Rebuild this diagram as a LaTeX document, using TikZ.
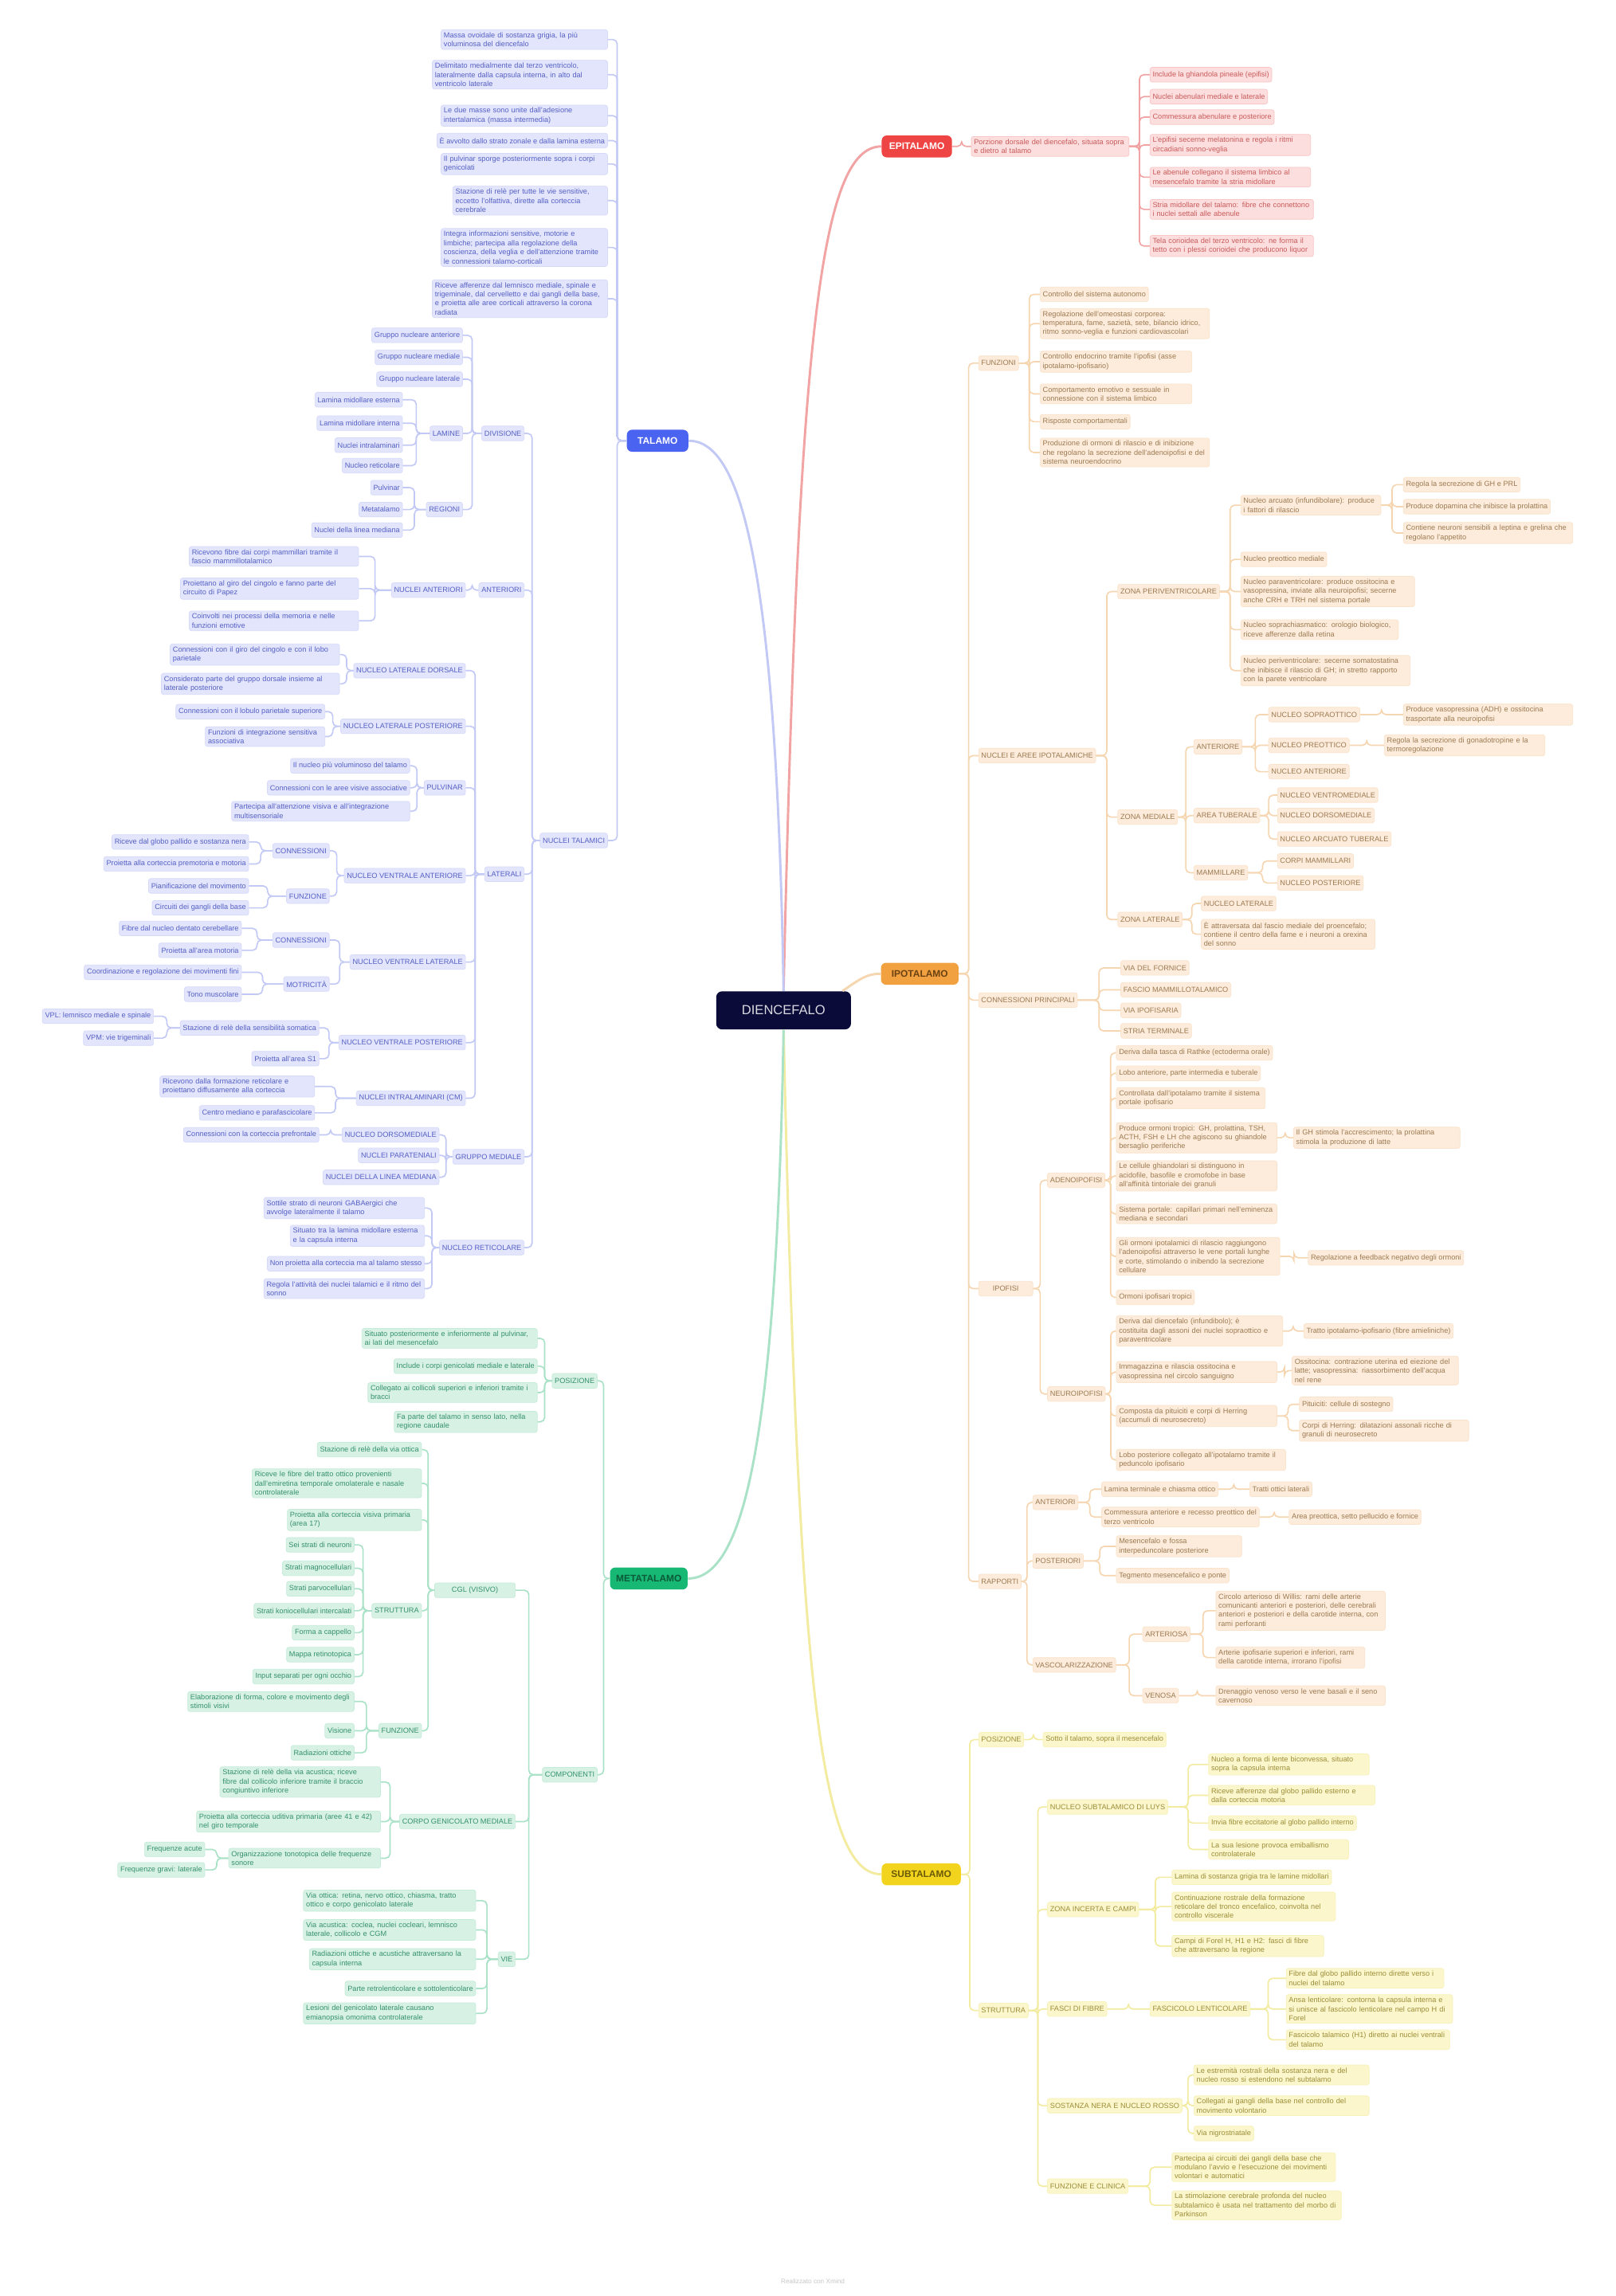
\documentclass[tikz,border=0pt]{standalone}
\usepackage{fontspec}
\setmainfont{Liberation Sans}
\usetikzlibrary{calc}
\hyphenpenalty=10000 \exhyphenpenalty=10000
\definecolor{navy}{HTML}{0B0B3A}
\definecolor{bM}{HTML}{4A63F0}\definecolor{bL}{HTML}{E2E5FC}\definecolor{bLn}{HTML}{C3C9F5}\definecolor{bT}{HTML}{5560C4}
\definecolor{rM}{HTML}{EF4444}\definecolor{rL}{HTML}{FDDEDE}\definecolor{rLn}{HTML}{F2A3A3}\definecolor{rT}{HTML}{C85A5A}
\definecolor{oM}{HTML}{F2A141}\definecolor{oL}{HTML}{FDECDB}\definecolor{oLn}{HTML}{F6D6B0}\definecolor{oT}{HTML}{9C7A52}\definecolor{oD}{HTML}{6B4212}
\definecolor{yM}{HTML}{F2D41E}\definecolor{yL}{HTML}{FBF6CC}\definecolor{yLn}{HTML}{F2EBA0}\definecolor{yT}{HTML}{9C8E38}\definecolor{yD}{HTML}{6B5A08}
\definecolor{gM}{HTML}{17B873}\definecolor{gL}{HTML}{D7F2E5}\definecolor{gLn}{HTML}{A9E2C7}\definecolor{gT}{HTML}{35906C}\definecolor{gD}{HTML}{0B5A3A}
\tikzset{
  base/.style={font=\fontsize{5}{6.2}\selectfont, inner sep=1.8pt, rounded corners=1.5pt, minimum height=10pt, align=left},
  leafB/.style={base, fill=bL, draw=bL!60!bLn, text=bT},
  leafR/.style={base, fill=rL, draw=rL!60!rLn, text=rT},
  leafO/.style={base, fill=oL, draw=oL!60!oLn, text=oT},
  leafY/.style={base, fill=yL, draw=yL!60!yLn, text=yT},
  leafG/.style={base, fill=gL, draw=gL!60!gLn, text=gT},
  lnB/.style={draw=bLn, line width=0.9pt, rounded corners=3pt},
  lnR/.style={draw=rLn, line width=0.9pt, rounded corners=3pt},
  lnO/.style={draw=oLn, line width=0.9pt, rounded corners=3pt},
  lnY/.style={draw=yLn, line width=0.9pt, rounded corners=3pt},
  lnG/.style={draw=gLn, line width=0.9pt, rounded corners=3pt},
  mainnode/.style={rounded corners=3.5pt, minimum height=15pt, inner sep=2pt, font=\fontsize{6.5}{7}\selectfont\bfseries},
  branch/.style={line width=1.6pt},
}
\newcommand\RN[4][]{\node[lf,anchor=west,#1] (#2) at #3 {#4};}
\newcommand\LN[4][]{\node[lf,anchor=east,#1] (#2) at #3 {#4};}
\newcommand\CR[2]{\draw[ln] (#1.east) -- ($(#1.east)!.5!(#2.west |- #1.east)$) |- (#2.west);}
\newcommand\CL[2]{\draw[ln] (#1.west) -- ($(#1.west)!.5!(#2.east |- #1.west)$) |- (#2.east);}
\begin{document}
\begin{tikzpicture}[x=1pt,y=-1pt]
\fill[white] (0,0) rectangle (1103,1568);
\useasboundingbox (0,0) rectangle (1103,1568);

\node[rounded corners=4pt, fill=navy, text=white!85!navy, minimum width=92pt, minimum height=26pt, font=\fontsize{9}{10}\selectfont] (C) at (535,690) {DIENCEFALO};

% ---------------- RED
\node[mainnode, fill=rM, text=white, minimum width=48pt] (E) at (626,100) {EPITALAMO};
\draw[branch, draw=rLn] (C.north) .. controls (545,230) and (560,100) .. (E.west);
\begin{scope}[lf/.style={leafR}, ln/.style={lnR}]
\RN[text width=104pt]{r1}{(663,100)}{Porzione dorsale del diencefalo, situata sopra e dietro al talamo}
\RN{r1a}{(785,51)}{Include la ghiandola pineale (epifisi)}
\RN{r1b}{(785,66)}{Nuclei abenulari mediale e laterale}
\RN{r1c}{(785,80)}{Commessura abenulare e posteriore}
\RN[text width=106pt]{r1d}{(785,99)}{L'epifisi secerne melatonina e regola i ritmi circadiani sonno-veglia}
\RN[text width=106pt]{r1e}{(785,121)}{Le abenule collegano il sistema limbico al mesencefalo tramite la stria midollare}
\RN[text width=108pt]{r1f}{(785,143)}{Stria midollare del talamo: fibre che connettono i nuclei settali alle abenule}
\RN[text width=108pt]{r1g}{(785,168)}{Tela corioidea del terzo ventricolo: ne forma il tetto con i plessi corioidei che producono liquor}
\CR{E}{r1}
\foreach \c in {r1a,r1b,r1c,r1d,r1e,r1f,r1g}{\CR{r1}{\c}}
\end{scope}

% ---------------- ORANGE
\node[mainnode, fill=oM, text=oD, minimum width=53pt] (O) at (628,665) {IPOTALAMO};
\draw[branch, draw=oLn] ($(C.north east)+(-6,0)$) .. controls (588,668) and (592,665) .. (O.west);
\begin{scope}[lf/.style={leafO}, ln/.style={lnO}]
\RN{o1}{(668,248)}{FUNZIONI}
\RN{o1a}{(710,201)}{Controllo del sistema autonomo}
\RN[text width=112pt]{o1b}{(710,221)}{Regolazione dell'omeostasi corporea: temperatura, fame, sazietà, sete, bilancio idrico, ritmo sonno-veglia e funzioni cardiovascolari}
\RN[text width=100pt]{o1c}{(710,247)}{Controllo endocrino tramite l'ipofisi (asse ipotalamo-ipofisario)}
\RN[text width=100pt]{o1d}{(710,269)}{Comportamento emotivo e sessuale in connessione con il sistema limbico}
\RN{o1e}{(710,288)}{Risposte comportamentali}
\RN[text width=112pt]{o1f}{(710,309)}{Produzione di ormoni di rilascio e di inibizione che regolano la secrezione dell'adenoipofisi e del sistema neuroendocrino}
\RN{o2}{(668,516)}{NUCLEI E AREE IPOTALAMICHE}
\RN{o2a}{(763,404)}{ZONA PERIVENTRICOLARE}
\RN[text width=92pt]{o2a1}{(847,345)}{Nucleo arcuato (infundibolare): produce i fattori di rilascio}
\RN{o2a1a}{(958,331)}{Regola la secrezione di GH e PRL}
\RN{o2a1b}{(958,346)}{Produce dopamina che inibisce la prolattina}
\RN[text width=112pt]{o2a1c}{(958,364)}{Contiene neuroni sensibili a leptina e grelina che regolano l'appetito}
\RN{o2a2}{(847,382)}{Nucleo preottico mediale}
\RN[text width=115pt]{o2a3}{(847,404)}{Nucleo paraventricolare: produce ossitocina e vasopressina, inviate alla neuroipofisi; secerne anche CRH e TRH nel sistema portale}
\RN[text width=104pt]{o2a4}{(847,430)}{Nucleo soprachiasmatico: orologio biologico, riceve afferenze dalla retina}
\RN[text width=112pt]{o2a5}{(847,458)}{Nucleo periventricolare: secerne somatostatina che inibisce il rilascio di GH; in stretto rapporto con la parete ventricolare}
\RN{o2b}{(763,558)}{ZONA MEDIALE}
\RN{o2b1}{(815,510)}{ANTERIORE}
\RN{o2b1a}{(866,488)}{NUCLEO SOPRAOTTICO}
\RN[text width=112pt]{o2b1a1}{(958,488)}{Produce vasopressina (ADH) e ossitocina trasportate alla neuroipofisi}
\RN{o2b1b}{(866,509)}{NUCLEO PREOTTICO}
\RN[text width=106pt]{o2b1b1}{(945,509)}{Regola la secrezione di gonadotropine e la termoregolazione}
\RN{o2b1c}{(866,527)}{NUCLEO ANTERIORE}
\RN{o2b2}{(815,557)}{AREA TUBERALE}
\RN{o2b2a}{(872,543)}{NUCLEO VENTROMEDIALE}
\RN{o2b2b}{(872,557)}{NUCLEO DORSOMEDIALE}
\RN{o2b2c}{(872,573)}{NUCLEO ARCUATO TUBERALE}
\RN{o2b3}{(815,596)}{MAMMILLARE}
\RN{o2b3a}{(872,588)}{CORPI MAMMILLARI}
\RN{o2b3b}{(872,603)}{NUCLEO POSTERIORE}
\RN{o2c}{(763,628)}{ZONA LATERALE}
\RN{o2c1}{(820,617)}{NUCLEO LATERALE}
\RN[text width=115pt]{o2c2}{(820,638)}{È attraversata dal fascio mediale del proencefalo; contiene il centro della fame e i neuroni a orexina del sonno}
\RN{o3}{(668,683)}{CONNESSIONI PRINCIPALI}
\RN{o3a}{(765,661)}{VIA DEL FORNICE}
\RN{o3b}{(765,676)}{FASCIO MAMMILLOTALAMICO}
\RN{o3c}{(765,690)}{VIA IPOFISARIA}
\RN{o3d}{(765,704)}{STRIA TERMINALE}
\RN[minimum width=37pt]{o4}{(668,880)}{IPOFISI}
\RN{o4a}{(715,806)}{ADENOIPOFISI}
\RN{o4a1}{(762,719)}{Deriva dalla tasca di Rathke (ectoderma orale)}
\RN{o4a2}{(762,733)}{Lobo anteriore, parte intermedia e tuberale}
\RN[text width=98pt]{o4a3}{(762,750)}{Controllata dall'ipotalamo tramite il sistema portale ipofisario}
\RN[text width=106pt]{o4a4}{(762,777)}{Produce ormoni tropici: GH, prolattina, TSH, ACTH, FSH e LH che agiscono su ghiandole bersaglio periferiche}
\RN[text width=110pt]{o4a4a}{(883,777)}{Il GH stimola l'accrescimento; la prolattina stimola la produzione di latte}
\RN[text width=106pt]{o4a5}{(762,803)}{Le cellule ghiandolari si distinguono in acidofile, basofile e cromofobe in base all'affinità tintoriale dei granuli}
\RN[text width=106pt]{o4a6}{(762,829)}{Sistema portale: capillari primari nell'eminenza mediana e secondari}
\RN[text width=108pt]{o4a7}{(762,858)}{Gli ormoni ipotalamici di rilascio raggiungono l'adenoipofisi attraverso le vene portali lunghe e corte, stimolando o inibendo la secrezione cellulare}
\RN{o4a7a}{(893,859)}{Regolazione a feedback negativo degli ormoni}
\RN{o4a8}{(762,886)}{Ormoni ipofisari tropici}
\RN{o4b}{(715,952)}{NEUROIPOFISI}
\RN[text width=110pt]{o4b1}{(762,909)}{Deriva dal diencefalo (infundibolo); è costituita dagli assoni dei nuclei sopraottico e paraventricolare}
\RN{o4b1a}{(890,909)}{Tratto ipotalamo-ipofisario (fibre amieliniche)}
\RN[text width=106pt]{o4b2}{(762,937)}{Immagazzina e rilascia ossitocina e vasopressina nel circolo sanguigno}
\RN[text width=110pt]{o4b2a}{(882,936)}{Ossitocina: contrazione uterina ed eiezione del latte; vasopressina: riassorbimento dell'acqua nel rene}
\RN[text width=106pt]{o4b3}{(762,967)}{Composta da pituiciti e corpi di Herring (accumuli di neurosecreto)}
\RN{o4b3a}{(887,959)}{Pituiciti: cellule di sostegno}
\RN[text width=112pt]{o4b3b}{(887,977)}{Corpi di Herring: dilatazioni assonali ricche di granuli di neurosecreto}
\RN[text width=112pt]{o4b4}{(762,997)}{Lobo posteriore collegato all'ipotalamo tramite il peduncolo ipofisario}
\RN{o5}{(668,1080)}{RAPPORTI}
\RN{o5a}{(705,1026)}{ANTERIORI}
\RN{o5a1}{(752,1017)}{Lamina terminale e chiasma ottico}
\RN{o5a1a}{(853,1017)}{Tratti ottici laterali}
\RN[text width=104pt]{o5a2}{(752,1036)}{Commessura anteriore e recesso preottico del terzo ventricolo}
\RN{o5a2a}{(880,1036)}{Area preottica, setto pellucido e fornice}
\RN{o5b}{(705,1066)}{POSTERIORI}
\RN[text width=82pt]{o5b1}{(762,1056)}{Mesencefalo e fossa interpeduncolare posteriore}
\RN{o5b2}{(762,1076)}{Tegmento mesencefalico e ponte}
\RN{o5c}{(705,1137)}{VASCOLARIZZAZIONE}
\RN{o5c1}{(780,1116)}{ARTERIOSA}
\RN[text width=112pt]{o5c1a}{(830,1100)}{Circolo arterioso di Willis: rami delle arterie comunicanti anteriori e posteriori, delle cerebrali anteriori e posteriori e della carotide interna, con rami perforanti}
\RN[text width=98pt]{o5c1b}{(830,1132)}{Arterie ipofisarie superiori e inferiori, rami della carotide interna, irrorano l'ipofisi}
\RN{o5c2}{(780,1158)}{VENOSA}
\RN[text width=112pt]{o5c2a}{(830,1158)}{Drenaggio venoso verso le vene basali e il seno cavernoso}
\foreach \c in {o1,o2,o3,o4,o5}{\CR{O}{\c}}
\foreach \c in {o1a,o1b,o1c,o1d,o1e,o1f}{\CR{o1}{\c}}
\foreach \c in {o2a,o2b,o2c}{\CR{o2}{\c}}
\foreach \c in {o2a1,o2a2,o2a3,o2a4,o2a5}{\CR{o2a}{\c}}
\foreach \c in {o2a1a,o2a1b,o2a1c}{\CR{o2a1}{\c}}
\foreach \c in {o2b1,o2b2,o2b3}{\CR{o2b}{\c}}
\foreach \c in {o2b1a,o2b1b,o2b1c}{\CR{o2b1}{\c}}
\CR{o2b1a}{o2b1a1}\CR{o2b1b}{o2b1b1}
\foreach \c in {o2b2a,o2b2b,o2b2c}{\CR{o2b2}{\c}}
\foreach \c in {o2b3a,o2b3b}{\CR{o2b3}{\c}}
\foreach \c in {o2c1,o2c2}{\CR{o2c}{\c}}
\foreach \c in {o3a,o3b,o3c,o3d}{\CR{o3}{\c}}
\foreach \c in {o4a,o4b}{\CR{o4}{\c}}
\foreach \c in {o4a1,o4a2,o4a3,o4a4,o4a5,o4a6,o4a7,o4a8}{\CR{o4a}{\c}}
\CR{o4a4}{o4a4a}\CR{o4a7}{o4a7a}
\foreach \c in {o4b1,o4b2,o4b3,o4b4}{\CR{o4b}{\c}}
\CR{o4b1}{o4b1a}\CR{o4b2}{o4b2a}\CR{o4b3}{o4b3a}\CR{o4b3}{o4b3b}
\foreach \c in {o5a,o5b,o5c}{\CR{o5}{\c}}
\CR{o5a}{o5a1}\CR{o5a}{o5a2}\CR{o5a1}{o5a1a}\CR{o5a2}{o5a2a}
\CR{o5b}{o5b1}\CR{o5b}{o5b2}
\CR{o5c}{o5c1}\CR{o5c}{o5c2}\CR{o5c1}{o5c1a}\CR{o5c1}{o5c1b}\CR{o5c2}{o5c2a}
\end{scope}

% ---------------- YELLOW
\node[mainnode, fill=yM, text=yD, minimum width=54pt] (S) at (629,1280) {SUBTALAMO};
\draw[branch, draw=yLn] (C.south) .. controls (545,1150) and (560,1280) .. (S.west);
\begin{scope}[lf/.style={leafY}, ln/.style={lnY}]
\RN{y1}{(668,1188)}{POSIZIONE}
\RN{y1a}{(712,1188)}{Sotto il talamo, sopra il mesencefalo}
\RN{y2}{(668,1373)}{STRUTTURA}
\RN{y2a}{(715,1234)}{NUCLEO SUBTALAMICO DI LUYS}
\RN[text width=106pt]{y2a1}{(825,1205)}{Nucleo a forma di lente biconvessa, situato sopra la capsula interna}
\RN[text width=110pt]{y2a2}{(825,1226)}{Riceve afferenze dal globo pallido esterno e dalla corteccia motoria}
\RN{y2a3}{(825,1245)}{Invia fibre eccitatorie al globo pallido interno}
\RN[text width=92pt]{y2a4}{(825,1263)}{La sua lesione provoca emiballismo controlaterale}
\RN{y2b}{(715,1304)}{ZONA INCERTA E CAMPI}
\RN{y2b1}{(800,1282)}{Lamina di sostanza grigia tra le lamine midollari}
\RN[text width=108pt]{y2b2}{(800,1302)}{Continuazione rostrale della formazione reticolare del tronco encefalico, coinvolta nel controllo viscerale}
\RN[text width=100pt]{y2b3}{(800,1329)}{Campi di Forel H, H1 e H2: fasci di fibre che attraversano la regione}
\RN{y2c}{(715,1372)}{FASCI DI FIBRE}
\RN{y2c1}{(785,1372)}{FASCICOLO LENTICOLARE}
\RN[text width=104pt]{y2c1a}{(878,1351)}{Fibre dal globo pallido interno dirette verso i nuclei del talamo}
\RN[text width=110pt]{y2c1b}{(878,1372)}{Ansa lenticolare: contorna la capsula interna e si unisce al fascicolo lenticolare nel campo H di Forel}
\RN[text width=108pt]{y2c1c}{(878,1393)}{Fascicolo talamico (H1) diretto ai nuclei ventrali del talamo}
\RN{y2d}{(715,1438)}{SOSTANZA NERA E NUCLEO ROSSO}
\RN[text width=116pt]{y2d1}{(815,1417)}{Le estremità rostrali della sostanza nera e del nucleo rosso si estendono nel subtalamo}
\RN[text width=116pt]{y2d2}{(815,1438)}{Collegati ai gangli della base nel controllo del movimento volontario}
\RN{y2d3}{(815,1457)}{Via nigrostriatale}
\RN{y2e}{(715,1493)}{FUNZIONE E CLINICA}
\RN[text width=108pt]{y2e1}{(800,1480)}{Partecipa ai circuiti dei gangli della base che modulano l'avvio e l'esecuzione dei movimenti volontari e automatici}
\RN[text width=112pt]{y2e2}{(800,1506)}{La stimolazione cerebrale profonda del nucleo subtalamico è usata nel trattamento del morbo di Parkinson}
\CR{S}{y1}\CR{S}{y2}\CR{y1}{y1a}
\foreach \c in {y2a,y2b,y2c,y2d,y2e}{\CR{y2}{\c}}
\foreach \c in {y2a1,y2a2,y2a3,y2a4}{\CR{y2a}{\c}}
\foreach \c in {y2b1,y2b2,y2b3}{\CR{y2b}{\c}}
\CR{y2c}{y2c1}
\foreach \c in {y2c1a,y2c1b,y2c1c}{\CR{y2c1}{\c}}
\foreach \c in {y2d1,y2d2,y2d3}{\CR{y2d}{\c}}
\foreach \c in {y2e1,y2e2}{\CR{y2e}{\c}}
\end{scope}

% ---------------- BLUE
\node[mainnode, fill=bM, text=white, minimum width=42pt] (T) at (449,301) {TALAMO};
\draw[branch, draw=bLn] (C.north) .. controls (530,380) and (505,301) .. (T.east);
\begin{scope}[lf/.style={leafB}, ln/.style={lnB}]
\LN[text width=110pt]{b1}{(415,27)}{Massa ovoidale di sostanza grigia, la più voluminosa del diencefalo}
\LN[text width=116pt]{b2}{(415,51)}{Delimitato medialmente dal terzo ventricolo, lateralmente dalla capsula interna, in alto dal ventricolo laterale}
\LN[text width=110pt]{b3}{(415,79)}{Le due masse sono unite dall'adesione intertalamica (massa intermedia)}
\LN{b4}{(415,96)}{È avvolto dallo strato zonale e dalla lamina esterna}
\LN[text width=110pt]{b5}{(415,112)}{Il pulvinar sporge posteriormente sopra i corpi genicolati}
\LN[text width=102pt]{b6}{(415,137)}{Stazione di relè per tutte le vie sensitive, eccetto l'olfattiva, dirette alla corteccia cerebrale}
\LN[text width=110pt]{b7}{(415,169)}{Integra informazioni sensitive, motorie e limbiche; partecipa alla regolazione della coscienza, della veglia e dell'attenzione tramite le connessioni talamo-corticali}
\LN[text width=116pt]{b8}{(415,204)}{Riceve afferenze dal lemnisco mediale, spinale e trigeminale, dal cervelletto e dai gangli della base, e proietta alle aree corticali attraverso la corona radiata}
\LN{b9}{(415,574)}{NUCLEI TALAMICI}
\LN{b9a}{(358,296)}{DIVISIONE}
\LN{b9a1}{(316,229)}{Gruppo nucleare anteriore}
\LN{b9a2}{(316,244)}{Gruppo nucleare mediale}
\LN{b9a3}{(316,259)}{Gruppo nucleare laterale}
\LN{b9a4}{(316,296)}{LAMINE}
\LN{b9a4a}{(275,273)}{Lamina midollare esterna}
\LN{b9a4b}{(275,289)}{Lamina midollare interna}
\LN{b9a4c}{(275,304)}{Nuclei intralaminari}
\LN{b9a4d}{(275,318)}{Nucleo reticolare}
\LN{b9a5}{(316,348)}{REGIONI}
\LN{b9a5a}{(275,333)}{Pulvinar}
\LN{b9a5b}{(275,348)}{Metatalamo}
\LN{b9a5c}{(275,362)}{Nuclei della linea mediana}
\LN{b9b}{(358,403)}{ANTERIORI}
\LN{b9b1}{(318,403)}{NUCLEI ANTERIORI}
\LN[text width=112pt]{b9b1a}{(245,380)}{Ricevono fibre dai corpi mammillari tramite il fascio mammillotalamico}
\LN[text width=118pt]{b9b1b}{(245,402)}{Proiettano al giro del cingolo e fanno parte del circuito di Papez}
\LN[text width=112pt]{b9b1c}{(245,424)}{Coinvolti nei processi della memoria e nelle funzioni emotive}
\LN{b9c}{(358,597)}{LATERALI}
\LN{b9c1}{(318,458)}{NUCLEO LATERALE DORSALE}
\LN[text width=112pt]{b9c1a}{(232,447)}{Connessioni con il giro del cingolo e con il lobo parietale}
\LN[text width=118pt]{b9c1b}{(232,467)}{Considerato parte del gruppo dorsale insieme al laterale posteriore}
\LN{b9c2}{(318,496)}{NUCLEO LATERALE POSTERIORE}
\LN{b9c2a}{(222,486)}{Connessioni con il lobulo parietale superiore}
\LN[text width=78pt]{b9c2b}{(222,503)}{Funzioni di integrazione sensitiva associativa}
\LN{b9c3}{(318,538)}{PULVINAR}
\LN{b9c3a}{(280,523)}{Il nucleo più voluminoso del talamo}
\LN{b9c3b}{(280,538)}{Connessioni con le aree visive associative}
\LN[text width=118pt]{b9c3c}{(280,554)}{Partecipa all'attenzione visiva e all'integrazione multisensoriale}
\LN{b9c4}{(318,598)}{NUCLEO VENTRALE ANTERIORE}
\LN{b9c4a}{(225,581)}{CONNESSIONI}
\LN{b9c4a1}{(170,575)}{Riceve dal globo pallido e sostanza nera}
\LN{b9c4a2}{(170,590)}{Proietta alla corteccia premotoria e motoria}
\LN{b9c4b}{(225,612)}{FUNZIONE}
\LN{b9c4b1}{(170,605)}{Pianificazione del movimento}
\LN{b9c4b2}{(170,620)}{Circuiti dei gangli della base}
\LN{b9c5}{(318,657)}{NUCLEO VENTRALE LATERALE}
\LN{b9c5a}{(225,642)}{CONNESSIONI}
\LN{b9c5a1}{(165,634)}{Fibre dal nucleo dentato cerebellare}
\LN{b9c5a2}{(165,649)}{Proietta all'area motoria}
\LN{b9c5b}{(225,672)}{MOTRICITÀ}
\LN{b9c5b1}{(165,664)}{Coordinazione e regolazione dei movimenti fini}
\LN{b9c5b2}{(165,679)}{Tono muscolare}
\LN{b9c6}{(318,712)}{NUCLEO VENTRALE POSTERIORE}
\LN{b9c6a}{(218,702)}{Stazione di relè della sensibilità somatica}
\LN{b9c6a1}{(105,694)}{VPL: lemnisco mediale e spinale}
\LN{b9c6a2}{(105,709)}{VPM: vie trigeminali}
\LN{b9c6b}{(218,723)}{Proietta all'area S1}
\LN{b9c7}{(318,750)}{NUCLEI INTRALAMINARI (CM)}
\LN[text width=102pt]{b9c7a}{(215,742)}{Ricevono dalla formazione reticolare e proiettano diffusamente alla corteccia}
\LN{b9c7b}{(215,760)}{Centro mediano e parafascicolare}
\LN{b9d}{(358,790)}{GRUPPO MEDIALE}
\LN{b9d1}{(300,775)}{NUCLEO DORSOMEDIALE}
\LN{b9d1a}{(218,775)}{Connessioni con la corteccia prefrontale}
\LN{b9d2}{(300,789)}{NUCLEI PARATENIALI}
\LN{b9d3}{(300,804)}{NUCLEI DELLA LINEA MEDIANA}
\LN{b9e}{(358,852)}{NUCLEO RETICOLARE}
\LN[text width=106pt]{b9e1}{(290,825)}{Sottile strato di neuroni GABAergici che avvolge lateralmente il talamo}
\LN[text width=88pt]{b9e2}{(290,844)}{Situato tra la lamina midollare esterna e la capsula interna}
\LN{b9e3}{(290,863)}{Non proietta alla corteccia ma al talamo stesso}
\LN[text width=106pt]{b9e4}{(290,880)}{Regola l'attività dei nuclei talamici e il ritmo del sonno}
\foreach \c in {b1,b2,b3,b4,b5,b6,b7,b8,b9}{\CL{T}{\c}}
\foreach \c in {b9a,b9b,b9c,b9d,b9e}{\CL{b9}{\c}}
\foreach \c in {b9a1,b9a2,b9a3,b9a4,b9a5}{\CL{b9a}{\c}}
\foreach \c in {b9a4a,b9a4b,b9a4c,b9a4d}{\CL{b9a4}{\c}}
\foreach \c in {b9a5a,b9a5b,b9a5c}{\CL{b9a5}{\c}}
\CL{b9b}{b9b1}
\foreach \c in {b9b1a,b9b1b,b9b1c}{\CL{b9b1}{\c}}
\foreach \c in {b9c1,b9c2,b9c3,b9c4,b9c5,b9c6,b9c7}{\CL{b9c}{\c}}
\CL{b9c1}{b9c1a}\CL{b9c1}{b9c1b}\CL{b9c2}{b9c2a}\CL{b9c2}{b9c2b}
\foreach \c in {b9c3a,b9c3b,b9c3c}{\CL{b9c3}{\c}}
\CL{b9c4}{b9c4a}\CL{b9c4}{b9c4b}\CL{b9c4a}{b9c4a1}\CL{b9c4a}{b9c4a2}\CL{b9c4b}{b9c4b1}\CL{b9c4b}{b9c4b2}
\CL{b9c5}{b9c5a}\CL{b9c5}{b9c5b}\CL{b9c5a}{b9c5a1}\CL{b9c5a}{b9c5a2}\CL{b9c5b}{b9c5b1}\CL{b9c5b}{b9c5b2}
\CL{b9c6}{b9c6a}\CL{b9c6}{b9c6b}\CL{b9c6a}{b9c6a1}\CL{b9c6a}{b9c6a2}
\CL{b9c7}{b9c7a}\CL{b9c7}{b9c7b}
\foreach \c in {b9d1,b9d2,b9d3}{\CL{b9d}{\c}}
\CL{b9d1}{b9d1a}
\foreach \c in {b9e1,b9e2,b9e3,b9e4}{\CL{b9e}{\c}}
\end{scope}

% ---------------- GREEN
\node[mainnode, fill=gM, text=gD, minimum width=53pt] (M) at (443,1078) {METATALAMO};
\draw[branch, draw=gLn] (C.south) .. controls (530,1000) and (505,1078) .. (M.east);
\begin{scope}[lf/.style={leafG}, ln/.style={lnG}]
\LN{g1}{(408,943)}{POSIZIONE}
\LN[text width=116pt]{g1a}{(367,914)}{Situato posteriormente e inferiormente al pulvinar, ai lati del mesencefalo}
\LN{g1b}{(367,933)}{Include i corpi genicolati mediale e laterale}
\LN[text width=112pt]{g1c}{(367,951)}{Collegato ai collicoli superiori e inferiori tramite i bracci}
\LN[text width=94pt]{g1d}{(367,971)}{Fa parte del talamo in senso lato, nella regione caudale}
\LN{g2}{(408,1212)}{COMPONENTI}
\LN[minimum width=55pt]{g2a}{(352,1086)}{CGL (VISIVO)}
\LN{g2a1}{(288,990)}{Stazione di relè della via ottica}
\LN[text width=112pt]{g2a2}{(288,1013)}{Riceve le fibre del tratto ottico provenienti dall'emiretina temporale omolaterale e nasale controlaterale}
\LN[text width=88pt]{g2a3}{(288,1038)}{Proietta alla corteccia visiva primaria (area 17)}
\LN{g2a4}{(288,1100)}{STRUTTURA}
\LN{g2a4a}{(242,1055)}{Sei strati di neuroni}
\LN{g2a4b}{(242,1071)}{Strati magnocellulari}
\LN{g2a4c}{(242,1085)}{Strati parvocellulari}
\LN{g2a4d}{(242,1100)}{Strati koniocellulari intercalati}
\LN{g2a4e}{(242,1115)}{Forma a cappello}
\LN{g2a4f}{(242,1130)}{Mappa retinotopica}
\LN{g2a4g}{(242,1145)}{Input separati per ogni occhio}
\LN{g2a5}{(288,1182)}{FUNZIONE}
\LN[text width=110pt]{g2a5a}{(242,1162)}{Elaborazione di forma, colore e movimento degli stimoli visivi}
\LN{g2a5b}{(242,1182)}{Visione}
\LN{g2a5c}{(242,1197)}{Radiazioni ottiche}
\LN{g2b}{(352,1244)}{CORPO GENICOLATO MEDIALE}
\LN[text width=106pt]{g2b1}{(260,1217)}{Stazione di relè della via acustica; riceve fibre dal collicolo inferiore tramite il braccio congiuntivo inferiore}
\LN[text width=122pt]{g2b2}{(260,1244)}{Proietta alla corteccia uditiva primaria (aree 41 e 42) nel giro temporale}
\LN[text width=100pt]{g2b3}{(260,1269)}{Organizzazione tonotopica delle frequenze sonore}
\LN{g2b3a}{(140,1263)}{Frequenze acute}
\LN{g2b3b}{(140,1277)}{Frequenze gravi: laterale}
\LN{g2c}{(352,1338)}{VIE}
\LN[text width=114pt]{g2c1}{(325,1298)}{Via ottica: retina, nervo ottico, chiasma, tratto ottico e corpo genicolato laterale}
\LN[text width=114pt]{g2c2}{(325,1318)}{Via acustica: coclea, nuclei cocleari, lemnisco laterale, collicolo e CGM}
\LN[text width=110pt]{g2c3}{(325,1338)}{Radiazioni ottiche e acustiche attraversano la capsula interna}
\LN{g2c4}{(325,1358)}{Parte retrolenticolare e sottolenticolare}
\LN[text width=114pt]{g2c5}{(325,1375)}{Lesioni del genicolato laterale causano emianopsia omonima controlaterale}
\CL{M}{g1}\CL{M}{g2}
\foreach \c in {g1a,g1b,g1c,g1d}{\CL{g1}{\c}}
\foreach \c in {g2a,g2b,g2c}{\CL{g2}{\c}}
\foreach \c in {g2a1,g2a2,g2a3,g2a4,g2a5}{\CL{g2a}{\c}}
\foreach \c in {g2a4a,g2a4b,g2a4c,g2a4d,g2a4e,g2a4f,g2a4g}{\CL{g2a4}{\c}}
\foreach \c in {g2a5a,g2a5b,g2a5c}{\CL{g2a5}{\c}}
\foreach \c in {g2b1,g2b2,g2b3}{\CL{g2b}{\c}}
\CL{g2b3}{g2b3a}\CL{g2b3}{g2b3b}
\foreach \c in {g2c1,g2c2,g2c3,g2c4,g2c5}{\CL{g2c}{\c}}
\end{scope}

\node[text=black!22, font=\fontsize{4.5}{5}\selectfont] (foot) at (555,1558) {Realizzato con Xmind};
\end{tikzpicture}
\end{document}
